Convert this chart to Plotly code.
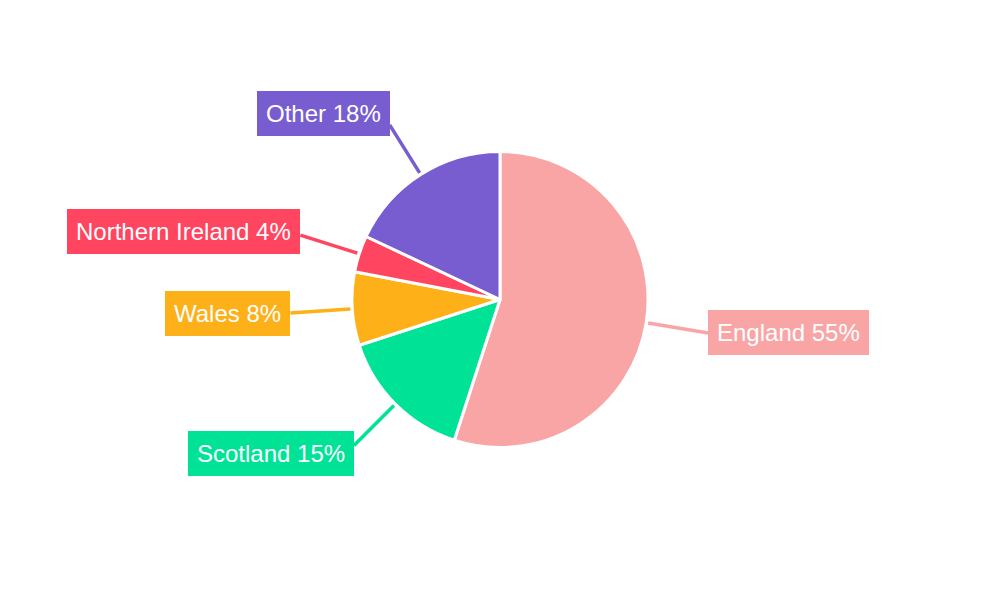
import math
import plotly.graph_objects as go

# ---- data ----
regions = ["England", "Scotland", "Wales", "Northern Ireland", "Other"]
shares = [55, 15, 8, 4, 18]
colors = ["#F9A5A6", "#00E396", "#FEB019", "#FF4560", "#775DD0"]

# ---- layout helpers (pixel layout for the leader labels) ----
# the page body has an 8px margin, so the figure sits at (8, 8)
OFF = 8
W, H = 1000 - 2 * OFF, 600 - 2 * OFF
CX, CY, R = 500 - OFF, 299.5 - OFF, 148
LINE_R = 150
# per slice: (line dx, line dy, box side, box yshift)
label_layout = [
    (60, 10, "left", 0),
    (-40, 40, "right", -8),
    (-60, 4, "right", -1),
    (-57, -18, "right", 3.5),
    (-30, -48, "right", 11),
]

def px_to_paper(px, py):
    return px / W, 1 - py / H

fig = go.Figure(go.Pie(
    labels=regions,
    values=shares,
    sort=False,
    direction="clockwise",
    rotation=0,
    marker=dict(colors=colors, line=dict(color="#ffffff", width=3)),
    textinfo="none",
    hoverinfo="label+percent",
    showlegend=False,
    domain=dict(x=[(CX - R) / W, (CX + R) / W],
                y=[1 - (CY + R) / H, 1 - (CY - R) / H]),
))

total = sum(shares)
cum = 0
shapes = []
annotations = []
for name, val, col, (dx, dy, side, ysh) in zip(regions, shares, colors, label_layout):
    mid = (cum + val / 2) / total * 2 * math.pi
    cum += val
    sx = CX + LINE_R * math.sin(mid)
    sy = CY - LINE_R * math.cos(mid)
    ex, ey = sx + dx, sy + dy
    x0, y0 = px_to_paper(sx, sy)
    x1, y1 = px_to_paper(ex, ey)
    shapes.append(dict(type="line", xref="paper", yref="paper",
                       x0=x0, y0=y0, x1=x1, y1=y1,
                       line=dict(color=col, width=3.5)))
    pct = round(val / total * 100)
    annotations.append(dict(
        x=x1, y=y1, xref="paper", yref="paper",
        text=f"{name} {pct}%", showarrow=False,
        xanchor=side, yanchor="middle", yshift=ysh,
        font=dict(family="Liberation Sans, Arial, sans-serif", size=24, color="#ffffff"),
        bgcolor=col, borderpad=9, borderwidth=0,
    ))

fig.update_layout(
    width=W, height=H,
    margin=dict(l=0, r=0, t=0, b=0),
    paper_bgcolor="#ffffff",
    plot_bgcolor="#ffffff",
    shapes=shapes,
    annotations=annotations,
)

fig.write_html("out.html")
